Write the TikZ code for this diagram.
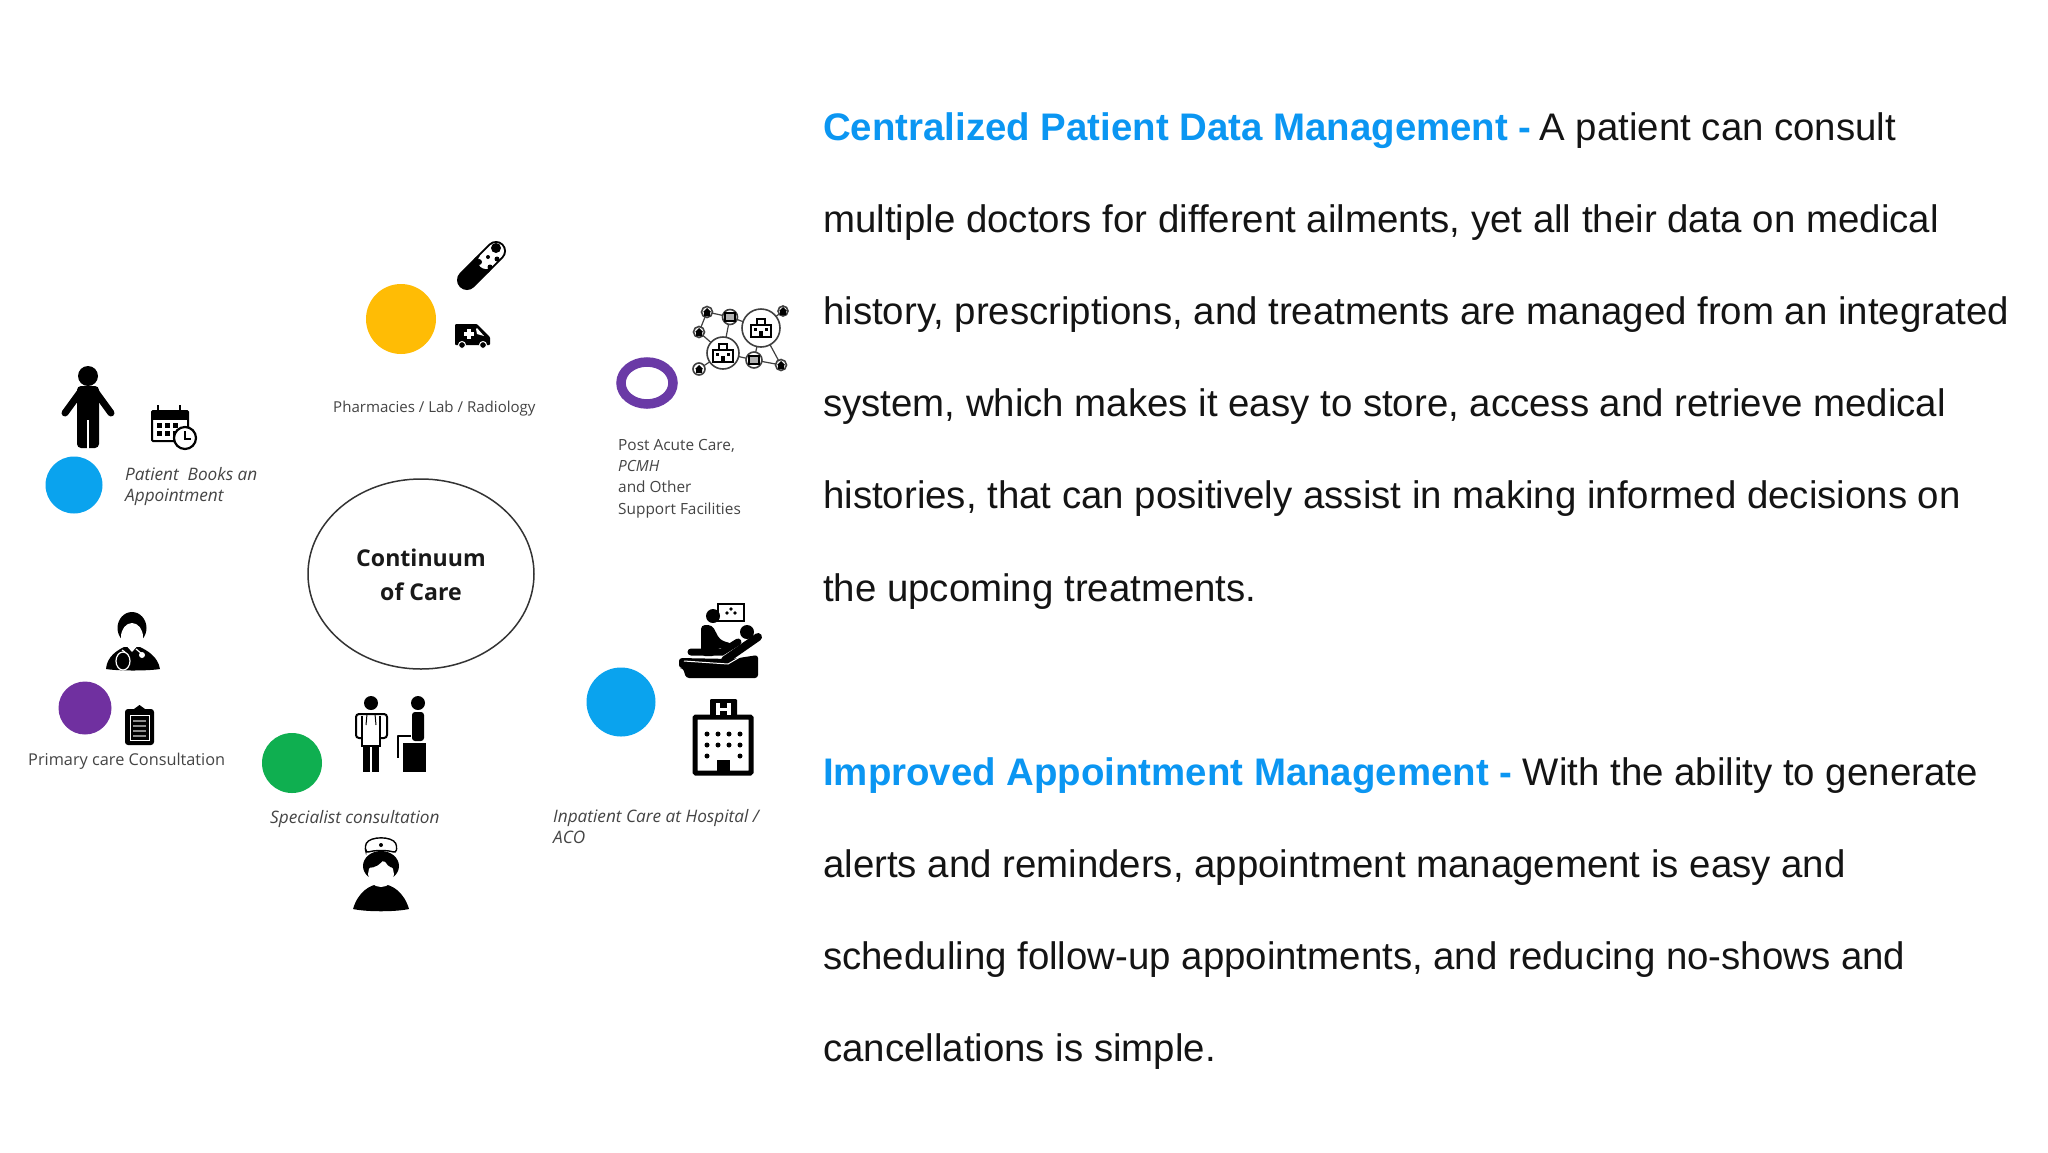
\documentclass[tikz,border=0pt]{standalone}
\usepackage{fontspec}
\setmainfont{Liberation Sans}
\newfontfamily\capfont{Open Sans}
\usetikzlibrary{arrows.meta, calc, positioning, shapes.geometric}

\definecolor{headblue}{HTML}{0B96F2}
\definecolor{skyblue}{HTML}{0AA3EE}
\definecolor{sunorange}{HTML}{FFBC05}
\definecolor{leafgreen}{HTML}{0FAF50}
\definecolor{plumpurple}{HTML}{7030A0}
\definecolor{ringpurple}{HTML}{6A3AA6}
\definecolor{captext}{HTML}{444444}

\begin{document}
\begin{tikzpicture}[
				x=1pt, y=-1pt,
				dot/.style={circle, inner sep=0pt, minimum size=#1},
				caption/.style={anchor=base west, inner sep=0pt, align=left, text=captext,
					font=\capfont\fontsize{15.4}{21.3}\selectfont},
				slanted/.style={caption, font=\capfont\itshape\fontsize{17.2}{20.6}\selectfont},
				para/.style={anchor=north west, inner sep=0pt, align=left, text=black!92,
					font=\fontsize{38.4}{92.2}\selectfont},
				ink/.style={fill=black, draw=none},
				netline/.style={draw=black!75, line width=1.2pt},
				netnode/.style={circle, draw=black!75, line width=1.6pt, fill=white, inner sep=0pt, minimum size=#1}
			]
			\useasboundingbox (0,0) rectangle (2048,1152);
			\fill[white] (0,0) rectangle (2048,1152);

			% Centre of the diagram
			\node[ellipse, draw=black!80, line width=1.5pt, minimum width=226pt, minimum height=190pt, inner sep=0pt] (care) at (421,574) {};
			\node[inner sep=0pt, align=center, font=\capfont\bfseries\fontsize{23.1}{34}\selectfont, text=black!90] (careText) at (421,575) {Continuum\\of Care};

			% Coloured dots
			\node[dot=57pt, fill=skyblue] (dotBook) at (74,485) {};
			\node[dot=70pt, fill=sunorange] (dotPharma) at (401,319) {};
			\node[ellipse, draw=ringpurple, line width=9.5pt, minimum width=52pt, minimum height=42pt, inner sep=0pt] (dotPost) at (647,383) {};
			\node[dot=53pt, fill=plumpurple] (dotPrimary) at (85,708) {};
			\node[dot=60pt, fill=leafgreen] (dotSpecial) at (292,763) {};
			\node[dot=69pt, fill=skyblue] (dotInpatient) at (621,702) {};

			% Captions
			\node[slanted] (capBook) at (125,501) {Patient\ \ Books an\\Appointment};
			\node[caption, font=\capfont\fontsize{15.05}{21}\selectfont] (capPharma) at (333,412) {Pharmacies / Lab / Radiology};
			\node[caption] (capPost) at (618,514) {Post Acute Care,\\\itshape PCMH\\and Other\\Support Facilities};
			\node[caption, font=\capfont\fontsize{16.3}{21}\selectfont] (capPrimary) at (28,765) {Primary care Consultation};
			\node[slanted] (capSpecial) at (270,823) {Specialist consultation};
			\node[slanted] (capInpatient) at (553,843) {Inpatient Care at Hospital /\\ACO};

			% Standing patient
			\fill[ink] (88,376) circle (10);
			\fill[ink, rounded corners=4pt] (77,386) rectangle (99,448);
			\draw[line width=7pt, line cap=round] (81,391) -- (65,413);
			\draw[line width=7pt, line cap=round] (95,391) -- (111,413);
			\draw[white, line width=1.5pt] (88,420) -- (88,449);

			% Calendar and clock
			\draw[line width=2pt, rounded corners=1pt] (152,411) rectangle (188,441);
			\fill[ink] (152,411) rectangle (188,420);
			\draw[line width=2pt] (158,405) -- (158,413);
			\draw[line width=2pt] (180,405) -- (180,413);
			\foreach \cx in {157,165,173} {
				\foreach \cy in {423,431} {
					\fill[ink] (\cx,\cy) rectangle +(5,5);
				}
			}
			\draw[line width=2.2pt, fill=white] (185,438) circle (11);
			\draw[line width=1.8pt] (185,431) -- (185,439) -- (191,439);

			% Pill
			\draw[line width=20pt, line cap=round] (467,280) -- (482,265);
			\draw[line width=20pt, line cap=round] (482,265) -- (496,251);
			\draw[white, line width=16pt, line cap=round] (486,261) -- (496,251);
			\fill[ink] (496,248) circle (5);
			\fill[ink] (488,257) circle (2);
			\fill[ink] (497,259) circle (2.5);
			\fill[ink] (490,267) circle (2.5);
			\fill[ink] (479,262) circle (3);

			% Ambulance
			\fill[ink, rounded corners=1pt] (455,324) -- (477,324) -- (490,337) -- (490,345) -- (455,345) -- cycle;
			\fill[white] (476,329) -- (477,334) -- (484,336) -- (477,328) -- cycle;
			\fill[white] (467,329) rectangle +(4,10);
			\fill[white] (464,332) rectangle +(10,4);
			\draw[white, line width=1pt, fill=black] (462,345) circle (3.5);
			\draw[white, line width=1pt, fill=black] (483,345) circle (3.5);

			% Network of care sites
			\coordinate (netA) at (707,312);
			\coordinate (netB) at (730,317);
			\coordinate (netC) at (761,328);
			\coordinate (netD) at (783,311);
			\coordinate (netE) at (699,332);
			\coordinate (netF) at (723,353);
			\coordinate (netG) at (699,369);
			\coordinate (netH) at (754,360);
			\coordinate (netI) at (781,365);
			\draw[netline] (netA) -- (netB) -- (netC) -- (netD);
			\draw[netline] (netA) -- (netE) -- (netF) -- (netG);
			\draw[netline] (netB) -- (netF) -- (netH) -- (netI) -- (netC) -- (netH);
			\foreach \site/\size in {netA/11pt, netB/15pt, netD/10pt, netE/11pt, netG/12pt, netH/16pt, netI/11pt} {
				\node[netnode=\size] (\site c) at (\site) {};
			}
			\node[netnode=38pt] (netCc) at (netC) {};
			\node[netnode=32pt] (netFc) at (netF) {};
			\foreach \site in {netC, netF} {
				\draw[line width=1.4pt, fill=white] ($(\site)+(-10,-3)$) rectangle ($(\site)+(10,9)$);
				\draw[line width=1.4pt] ($(\site)+(-4,-9)$) rectangle ($(\site)+(4,-3)$);
				\fill[ink] ($(\site)+(-2,3)$) rectangle ($(\site)+(2,9)$);
				\foreach \wx in {-7,4} {
					\fill[ink] ($(\site)+(\wx,0)$) rectangle +(3,3);
				}
			}
			\foreach \site in {netA, netD, netE, netG, netI} {
				\fill[ink] ($(\site)+(-4,0)$) -- ($(\site)+(0,-4)$) -- ($(\site)+(4,0)$) -- ($(\site)+(3,0)$) -- ($(\site)+(3,4)$) -- ($(\site)+(-3,4)$) -- ($(\site)+(-3,0)$) -- cycle;
			}
			\foreach \site in {netB, netH} {
				\draw[line width=1.3pt, fill=black!30] ($(\site)+(-5,-4)$) rectangle ($(\site)+(5,4)$);
			}

			% Family doctor
			\fill[ink] (132,628) ellipse (14.5 and 16);
			\fill[white] (132,637) ellipse (11 and 14);
			\fill[ink] (106,669) .. controls (107,656) and (118,650) .. (124,647) -- (140,647) .. controls (146,650) and (158,656) .. (160,669) .. controls (148,671) and (118,671) .. (106,669) -- cycle;
			\fill[white] (124,643) -- (140,643) -- (132,652) -- cycle;
			\draw[white, line width=1.2pt] (123,661) ellipse (7 and 9);
			\draw[white, line width=1.2pt] (122,650) -- (125,652);
			\draw[white, line width=1.2pt] (136,649) -- (142,654);
			\fill[white] (142,655) circle (3);

			% Clipboard
			\fill[ink, rounded corners=3pt] (125,709) rectangle (154,745);
			\fill[ink] (134,709) -- (139.5,705) -- (145,709) -- cycle;
			\draw[white, line width=1pt] (130,715) rectangle (149,740);
			\foreach \ly in {721,726,731,736} {
				\draw[black!45, line width=1.5pt] (133,\ly) -- (146,\ly);
			}

			% Specialist and seated patient
			\fill[ink] (371,703) circle (7);
			\fill[ink] (363,745) rectangle (370,772);
			\fill[ink] (372,745) rectangle (379,772);
			\draw[line width=2pt, rounded corners=3pt, fill=white] (356,714) rectangle (387,738);
			\fill[white] (362,720) rectangle (380,746);
			\draw[line width=2pt] (362,716) -- (362,746) -- (380,746) -- (380,716);
			\draw[line width=1pt] (367,714) -- (366,725);
			\draw[line width=1pt] (375,714) -- (376,725);
			\fill[ink] (418,703) circle (7);
			\fill[ink, rounded corners=3pt] (412,712) rectangle (424,741);
			\fill[ink] (403,743) rectangle (426,772);
			\draw[line width=2.5pt, line join=round] (411,736) -- (398,736) -- (398,758);

			% Nurse
			\fill[ink] (353,909) .. controls (358,892) and (370,884) .. (381,884) .. controls (392,884) and (404,892) .. (409,909) .. controls (395,912) and (367,912) .. (353,909) -- cycle;
			\fill[ink] (381,866) ellipse (18 and 15);
			\fill[white] (381,874) ellipse (13 and 13);
			\fill[ink] (368,868) .. controls (375,868) and (382,864) .. (384,858) .. controls (385,864) and (390,868) .. (394,868) -- (392,858) -- (370,858) -- cycle;
			\draw[line width=1.4pt, fill=white, rounded corners=3pt] (366,853) -- (365,846) .. controls (370,836) and (392,836) .. (397,846) -- (396,853) .. controls (388,850) and (374,850) .. (366,853) -- cycle;
			\fill[ink] (381,845) circle (2);

			% Bedside care
			\draw[line width=2.5pt, fill=white] (718,604) rectangle (744,621);
			\foreach \dotx/\doty in {727/613, 731/609, 735/613} {
				\fill[ink] (\dotx,\doty) circle (1.8);
			}
			\fill[ink] (713,616) circle (7);
			\fill[ink] (747,632) circle (7);
			\fill[ink, rounded corners=4pt] (701,625) -- (712,625) -- (720,640) -- (733,644) -- (733,649) -- (716,648) -- (716,656) -- (701,656) -- cycle;
			\draw[line width=7pt, line cap=round] (691,652) -- (722,652) -- (738,642);
			\draw[line width=8pt, line cap=round] (725,660) -- (758,637);
			\fill[ink, rounded corners=3pt] (679,658) -- (732,659) -- (758,655) -- (758,678) -- (686,678) -- (683,668) -- (679,668) -- cycle;
			\draw[white, line width=1pt] (684,661) -- (728,664) -- (752,650);

			% Hospital building
			\draw[line width=5pt, rounded corners=1pt] (695,717) rectangle (751,773);
			\fill[ink, rounded corners=1pt] (710,699) rectangle (737,718);
			\fill[white] (716,703) rectangle +(4,12);
			\fill[white] (727,703) rectangle +(4,12);
			\fill[white] (716,707.5) rectangle (731,710.5);
			\foreach \wx in {707,718,729,740} {
				\fill[ink] (\wx,734) circle (2.5);
				\fill[ink] (\wx,745) circle (2.5);
			}
			\fill[ink] (707,756) circle (2.5);
			\fill[ink] (740,756) circle (2.5);
			\fill[ink] (717,760) rectangle (730,773);

			% Text on the right
			\node[para] (dataText) at (823,112) {\textcolor{headblue}{\bfseries Centralized Patient Data Management -}\hspace{8pt}A patient can consult\\
				multiple doctors for different ailments, yet all their data on medical\\
				history, prescriptions, and treatments are managed from an integrated\\
				system, which makes it easy to store, access and retrieve medical\\
				histories, that can positively assist in making informed decisions on\\
				the upcoming treatments.};
			\node[para] (apptText) at (823,757) {\textcolor{headblue}{\bfseries Improved Appointment Management - }With the ability to generate\\
				alerts and reminders, appointment management is easy and\\
				scheduling follow-up appointments, and reducing no-shows and\\
				cancellations is simple.};

		\end{tikzpicture}
\end{document}
